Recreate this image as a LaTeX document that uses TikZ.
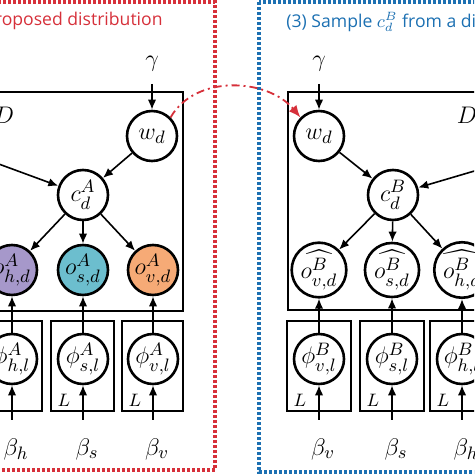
\documentclass[tikz,border=0pt]{standalone}
\usepackage{amsmath, amssymb}
\usepackage{fontspec}
\newfontfamily\ttlfont{Open Sans}
\usepackage{tikz}
\usetikzlibrary{arrows.meta}
\usepackage{xcolor}
\definecolor{propRed}{RGB}{214, 48, 58}
\definecolor{sampBlue}{RGB}{28, 112, 178}
\definecolor{hFill}{RGB}{166, 152, 202}
\definecolor{sFill}{RGB}{108, 190, 206}
\definecolor{vFill}{RGB}{246, 170, 118}

\begin{document}
\begin{tikzpicture}[x=0.5pt, y=-0.5pt, >={Latex[length=5pt, width=4.2pt]},
  rv/.style={circle, draw, line width=1.3pt, minimum size=25pt, inner sep=0pt, font=\fontsize{13}{15}\selectfont},
  plate/.style={draw, line width=1.1pt},
  edge/.style={->, line width=0.8pt},
  hyper/.style={font=\fontsize{13}{15}\selectfont, inner sep=1pt},
  panelA/.style={propRed, line width=1.7pt, dash pattern=on 1.4pt off 1.1pt},
  panelB/.style={sampBlue, line width=1.7pt, dash pattern=on 1.4pt off 1.1pt},
  ttl/.style={font=\ttlfont\fontsize{8.8}{10}\selectfont, inner sep=0pt}]
  \useasboundingbox (0, 0) rectangle (474, 474);
  \clip (0, 0) rectangle (474, 474);

  % the two dotted panels
  \draw[panelA] (-300, 2) rectangle (215, 470);
  \draw[panelB] (259, 2) rectangle (760, 472);
  \node[ttl, anchor=east, text=propRed] (ttlA) at (163, 21) {proposed distribution};
  \node[ttl, anchor=west, text=sampBlue] (ttlB) at (286, 22) {(3) Sample $c_d^B$ from a distribution};

  % plates
  \draw[plate] (-200, 92) rectangle (183, 311);
  \draw[plate] (-21, 321) rectangle (42, 411);
  \draw[plate] (51, 321) rectangle (114, 411);
  \draw[plate] (122, 321) rectangle (183, 411);
  \draw[plate] (288, 92) rectangle (700, 310);
  \draw[plate] (287, 321) rectangle (351, 411);
  \draw[plate] (360, 321) rectangle (424, 411);
  \draw[plate] (430, 321) rectangle (494, 411);
  \node[font=\large] (DA) at (4, 115) {$D$};
  \node[font=\large] (DB) at (467, 115) {$D$};
  \node[font=\small] (LsA) at (64, 400) {$L$};
  \node[font=\small] (LvA) at (135, 400) {$L$};
  \node[font=\small] (LvB) at (300, 400) {$L$};
  \node[font=\small] (LsB) at (373, 400) {$L$};
  \node[font=\small] (LhB) at (443, 400) {$L$};

  % left model
  \node[hyper] (gA) at (152, 64) {$\gamma$};
  \node[rv] (wA) at (152, 136) {$w_d$};
  \node[rv] (cA) at (83, 195) {$c_d^A$};
  \coordinate (pA) at (-110, 124);
  \node[rv, fill=hFill] (ohA) at (12, 270) {$o^A_{h,d}$};
  \node[rv, fill=sFill] (osA) at (83, 270) {$o^A_{s,d}$};
  \node[rv, fill=vFill] (ovA) at (153, 270) {$o^A_{v,d}$};
  \node[rv] (fhA) at (12, 359) {$\phi^A_{h,l}$};
  \node[rv] (fsA) at (83, 359) {$\phi^A_{s,l}$};
  \node[rv] (fvA) at (153, 359) {$\phi^A_{v,l}$};
  \node[hyper] (bhA) at (16, 449) {$\beta_h$};
  \node[hyper] (bsA) at (87, 449) {$\beta_s$};
  \node[hyper] (bvA) at (157, 449) {$\beta_v$};

  \draw[edge] ([yshift=-5pt]gA.south) -- (wA);
  \draw[edge] (wA) -- (cA);
  \draw[edge] (pA) -- (cA);
  \draw[edge] (cA) -- (ohA);
  \draw[edge] (cA) -- (osA);
  \draw[edge] (cA) -- (ovA);
  \draw[edge] (fhA) -- (ohA);
  \draw[edge] (fsA) -- (osA);
  \draw[edge] (fvA) -- (ovA);
  \draw[edge] ([yshift=8pt]bhA.north -| fhA) -- (fhA);
  \draw[edge] ([yshift=8pt]bsA.north -| fsA) -- (fsA);
  \draw[edge] ([yshift=8pt]bvA.north -| fvA) -- (fvA);

  % right model
  \node[hyper] (gB) at (319, 64) {$\gamma$};
  \node[rv] (wB) at (319, 136) {$w_d$};
  \node[rv] (cB) at (393, 195) {$c_d^B$};
  \coordinate (pB) at (600, 134);
  \node[rv] (ovB) at (319, 270) {$\widehat{o^B_{v,d}}$};
  \node[rv] (osB) at (392, 270) {$\widehat{o^B_{s,d}}$};
  \node[rv] (ohB) at (462, 270) {$\widehat{o^B_{h,d}}$};
  \node[rv] (fvB) at (319, 359) {$\phi^B_{v,l}$};
  \node[rv] (fsB) at (392, 359) {$\phi^B_{s,l}$};
  \node[rv] (fhB) at (462, 359) {$\phi^B_{h,l}$};
  \node[hyper] (bvB) at (323, 449) {$\beta_v$};
  \node[hyper] (bsB) at (396, 449) {$\beta_s$};
  \node[hyper] (bhB) at (466, 449) {$\beta_h$};

  \draw[edge] ([yshift=-5pt]gB.south) -- (wB);
  \draw[edge] (wB) -- (cB);
  \draw[edge] (pB) -- (cB);
  \draw[edge] (cB) -- (ovB);
  \draw[edge] (cB) -- (osB);
  \draw[edge] (cB) -- (ohB);
  \draw[edge] (fvB) -- (ovB);
  \draw[edge] (fsB) -- (osB);
  \draw[edge] (fhB) -- (ohB);
  \draw[edge] ([yshift=8pt]bvB.north -| fvB) -- (fvB);
  \draw[edge] ([yshift=8pt]bsB.north -| fsB) -- (fsB);
  \draw[edge] ([yshift=8pt]bhB.north -| fhB) -- (fhB);

  % hand-over of w_d
  \draw[propRed, line width=0.9pt, dash pattern=on 4pt off 2pt on 1pt off 2pt,
    -{Latex[length=6pt, width=5pt]}] (wA.45) to[out=60, in=130] (wB.135);
\end{tikzpicture}
\end{document}
